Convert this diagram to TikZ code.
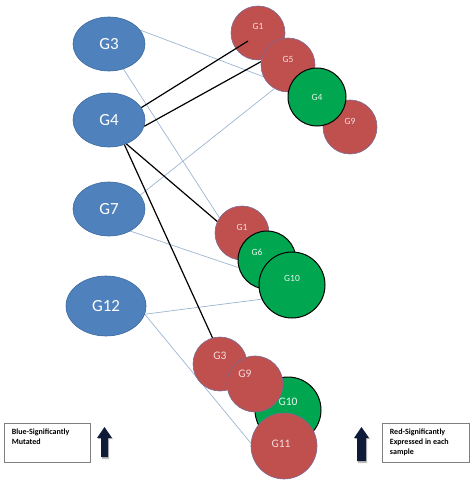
\documentclass[tikz,border=0pt]{standalone}
\usepackage{fontspec}
\setmainfont{Carlito}
\usetikzlibrary{calc,backgrounds,shapes.geometric}
\definecolor{gblue}{HTML}{4F81BD}
\definecolor{gblueb}{HTML}{3C6A9E}
\definecolor{gred}{HTML}{C0504D}
\definecolor{gredb}{HTML}{7B6A95}
\definecolor{ggreen}{HTML}{00A650}
\definecolor{thinc}{HTML}{9DB5D3}
\definecolor{navy}{HTML}{0E1C3A}
\definecolor{boxb}{HTML}{7F7F7F}
\definecolor{pinktxt}{HTML}{F5DEDD}
\definecolor{greentxt}{HTML}{E6F5EA}
\tikzset{
  mutated/.style={ellipse, fill=gblue, draw=gblueb, line width=0.6pt,
    minimum width=72pt, minimum height=54pt, inner sep=0pt, text=white,
    font=\fontsize{17}{17}\selectfont},
  redc/.style={circle, fill=gred, draw=gredb, line width=0.6pt, minimum size=#1, inner sep=0pt},
  greenc/.style={circle, fill=ggreen, draw=black, line width=1pt, minimum size=#1, inner sep=0pt},
  rlab/.style={text=pinktxt, font=\fontsize{9.5}{9.5}\selectfont, inner sep=0pt},
  rlabbig/.style={text=pinktxt, font=\fontsize{11.5}{11.5}\selectfont, inner sep=0pt},
  glab/.style={text=greentxt, font=\fontsize{9.5}{9.5}\selectfont, inner sep=0pt},
  glabbig/.style={text=greentxt, font=\fontsize{11.5}{11.5}\selectfont, inner sep=0pt},
  thinl/.style={draw=thinc, line width=0.7pt},
  boldl/.style={draw=black, line width=1.2pt},
  legbox/.style={rectangle, draw=boxb, line width=0.7pt, fill=white, minimum width=86pt, minimum height=39pt, inner sep=0pt},
  legtxt/.style={align=left, inner sep=0pt, font=\bfseries\fontsize{8}{10}\selectfont},
  uparrow/.style={fill=navy},
  arrshadow/.style={fill=black, opacity=0.25}
}
\begin{document}
\begin{tikzpicture}[x=1pt,y=-1pt]
\useasboundingbox (0,0) rectangle (474,484);

% blue ellipses (mutated)
\node[mutated] (G3) at (109,44) {G3};
\node[mutated] (G4) at (109,120) {G4};
\node[mutated] (G7) at (109,209) {G7};
\node[mutated, minimum width=80pt, minimum height=60pt] (G12) at (106,306) {G12};

% group 1
\node[redc=54pt, label={[rlab, yshift=6pt]center:G9}] (G9a) at (350,127) {};
\node[redc=54pt, label={[rlab, yshift=7pt]center:G1}] (G1a) at (258,33) {};
\node[redc=54pt, label={[rlab, yshift=6pt]center:G5}] (G5) at (288,65) {};
\node[greenc=58pt, label={[glab]center:G4}] (G4g) at (317,97) {};

% group 2
\node[redc=54pt, label={[rlab, yshift=6pt]center:G1}] (G1b) at (242,233) {};
\node[greenc=58pt, label={[glab, xshift=-10pt, yshift=8pt]center:G6}] (G6) at (267,260) {};
\node[greenc=66pt, label={[glab, yshift=7pt]center:G10}] (G10b) at (292,285) {};

% group 3
\node[greenc=66pt, label={[glabbig, yshift=8pt]center:G10}] (G10c) at (288,410) {};
\node[redc=54pt, label={[rlabbig, yshift=8pt]center:G3}] (G3c) at (220,364) {};
\node[redc=56pt, label={[rlabbig, xshift=-10pt, yshift=10pt]center:G9}] (G9c) at (255,384) {};
\node[redc=66pt, label={[rlabbig, xshift=-3pt, yshift=2pt]center:G11}] (G11) at (284,446) {};

% thin connectors (behind)
\begin{scope}[on background layer]
\draw[thinl] (G3.24) -- (G4g.center);
\draw[thinl] (G3.300) -- (G1b.146);
\draw[thinl] (G7.24) -- (G5.240);
\draw[thinl] (G7.314) -- (G6.195);
\draw[thinl] (G12.348) -- (G10b.205);
\draw[thinl] (G12.348) -- (G11.175);
\end{scope}

% bold connectors
\coordinate (G1in) at ($(G1a)+(-10,8)$);
\draw[boldl] (G4.21) -- (G1in);
\draw[boldl] (G4.350) -- (G5.173);
\draw[boldl] (G4.306) -- (G1b.155);
\draw[boldl] (G4.302) -- (G3c.106);

% legends
\node[legbox] (legB) at (47,442.5) {};
\node[legtxt, anchor=north west] (legBt) at ($(legB.north west)+(8,6)$) {Blue-Significantly\\Mutated};
\node[legbox, minimum width=87pt] (legR) at (425.5,442.5) {};
\node[legtxt, anchor=north west] (legRt) at ($(legR.north west)+(8,6)$) {Red-Significantly\\Expressed in each\\sample};

% block arrows
\fill[arrshadow] (98,439) -- (105.5,429) -- (113,439) -- (109,439) -- (109,459) -- (102,459) -- (102,439) -- cycle;
\fill[uparrow] (97,438) -- (104.5,427) -- (112,438) -- (108,438) -- (108,457) -- (101,457) -- (101,438) -- cycle;
\fill[arrshadow] (355,439) -- (362.5,429) -- (370,439) -- (367,439) -- (367,463) -- (358,463) -- (358,439) -- cycle;
\fill[uparrow] (354,438) -- (361.5,427) -- (369,438) -- (366,438) -- (366,461) -- (357,461) -- (357,438) -- cycle;
\end{tikzpicture}
\end{document}
